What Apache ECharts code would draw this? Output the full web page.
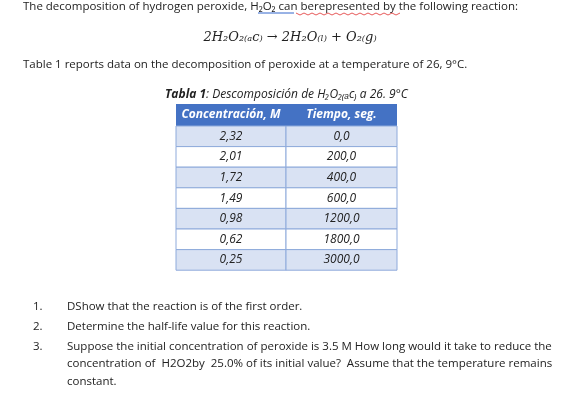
<!DOCTYPE html><html><head><meta charset="utf-8"><script src="https://cdn.jsdelivr.net/npm/echarts@6/dist/echarts.min.js"></script>
<style>html,body{margin:0;background:#fff}#c{width:588px;height:405px}</style></head><body><div id="c"></div><script>
const headers = ['Concentración, M', 'Tiempo, seg.'];
const concentration = ['2,32','2,01','1,72','1,49','0,98','0,62','0,25'];
const time = ['0,0','200,0','400,0','600,0','1200,0','1800,0','3000,0'];
const F = '"Open Sans","Liberation Sans",sans-serif';
const g = [];
function t(x,y,s,o){g.push({type:'text',x,y,style:Object.assign({text:s,font:'11.5px '+F,fill:'#222',textVerticalAlign:'middle'},o||{})});}
t(23,7,'The decomposition of hydrogen peroxide, H₂O₂ can berepresented by the following reaction:');
g.push({type:'line',shape:{x1:258,y1:13,x2:294,y2:13},style:{stroke:'#3366cc',lineWidth:1}});
g.push({type:'polyline',shape:{points:Array.from({length:27},(_,i)=>[296+i*4,13+(i%2)*2])},style:{stroke:'#e03030',lineWidth:0.8}});
t(290,38,'2H₂O₂₍ₐc₎ → 2H₂O₍ₗ₎ + O₂₍g₎',{font:'italic 13px "DejaVu Serif",serif',textAlign:'center'});
t(23,65,'Table 1 reports data on the decomposition of peroxide at a temperature of 26, 9°C.');
g.push({type:'text',x:165,y:95,style:{rich:{b:{font:'italic bold 12px '+F,fill:'#222'},n:{font:'italic 12px '+F,fill:'#222'}},text:'{b|Tabla 1}{n|: Descomposición de H₂O₂₍ₐc₎ a 26. 9°C}',textVerticalAlign:'middle'}});
const x0=176,xm=286,x1=397,hy=104,rh=20.6;
g.push({type:'rect',shape:{x:x0,y:hy,width:x1-x0,height:22},style:{fill:'#4472C4'}});
t((x0+xm)/2,hy+11,headers[0],{font:'italic bold 12px '+F,fill:'#fff',textAlign:'center'});
t((xm+x1)/2,hy+11,headers[1],{font:'italic bold 12px '+F,fill:'#fff',textAlign:'center'});
concentration.forEach((c,i)=>{const y=hy+22+i*rh;
 g.push({type:'rect',shape:{x:x0,y,width:xm-x0,height:rh},style:{fill:i%2?'#fff':'#D9E2F3',stroke:'#8EAADB',lineWidth:1}});
 g.push({type:'rect',shape:{x:xm,y,width:x1-xm,height:rh},style:{fill:i%2?'#fff':'#D9E2F3',stroke:'#8EAADB',lineWidth:1}});
 t((x0+xm)/2,y+rh/2,c,{font:'italic 12px '+F,textAlign:'center'});
 t((xm+x1)/2,y+rh/2,time[i],{font:'italic 12px '+F,textAlign:'center'});
});
t(33,307,'1.');t(67,307,'DShow that the reaction is of the first order.');
t(33,327,'2.');t(67,327,'Determine the half-life value for this reaction.');
t(33,347,'3.');t(67,347,'Suppose the initial concentration of peroxide is 3.5 M How long would it take to reduce the');
t(67,364,'concentration of  H2O2by  25.0% of its initial value?  Assume that the temperature remains');
t(67,382,'constant.');
const ch=echarts.init(document.getElementById('c'));
ch.setOption({animation:false,graphic:g});
</script></body></html>
